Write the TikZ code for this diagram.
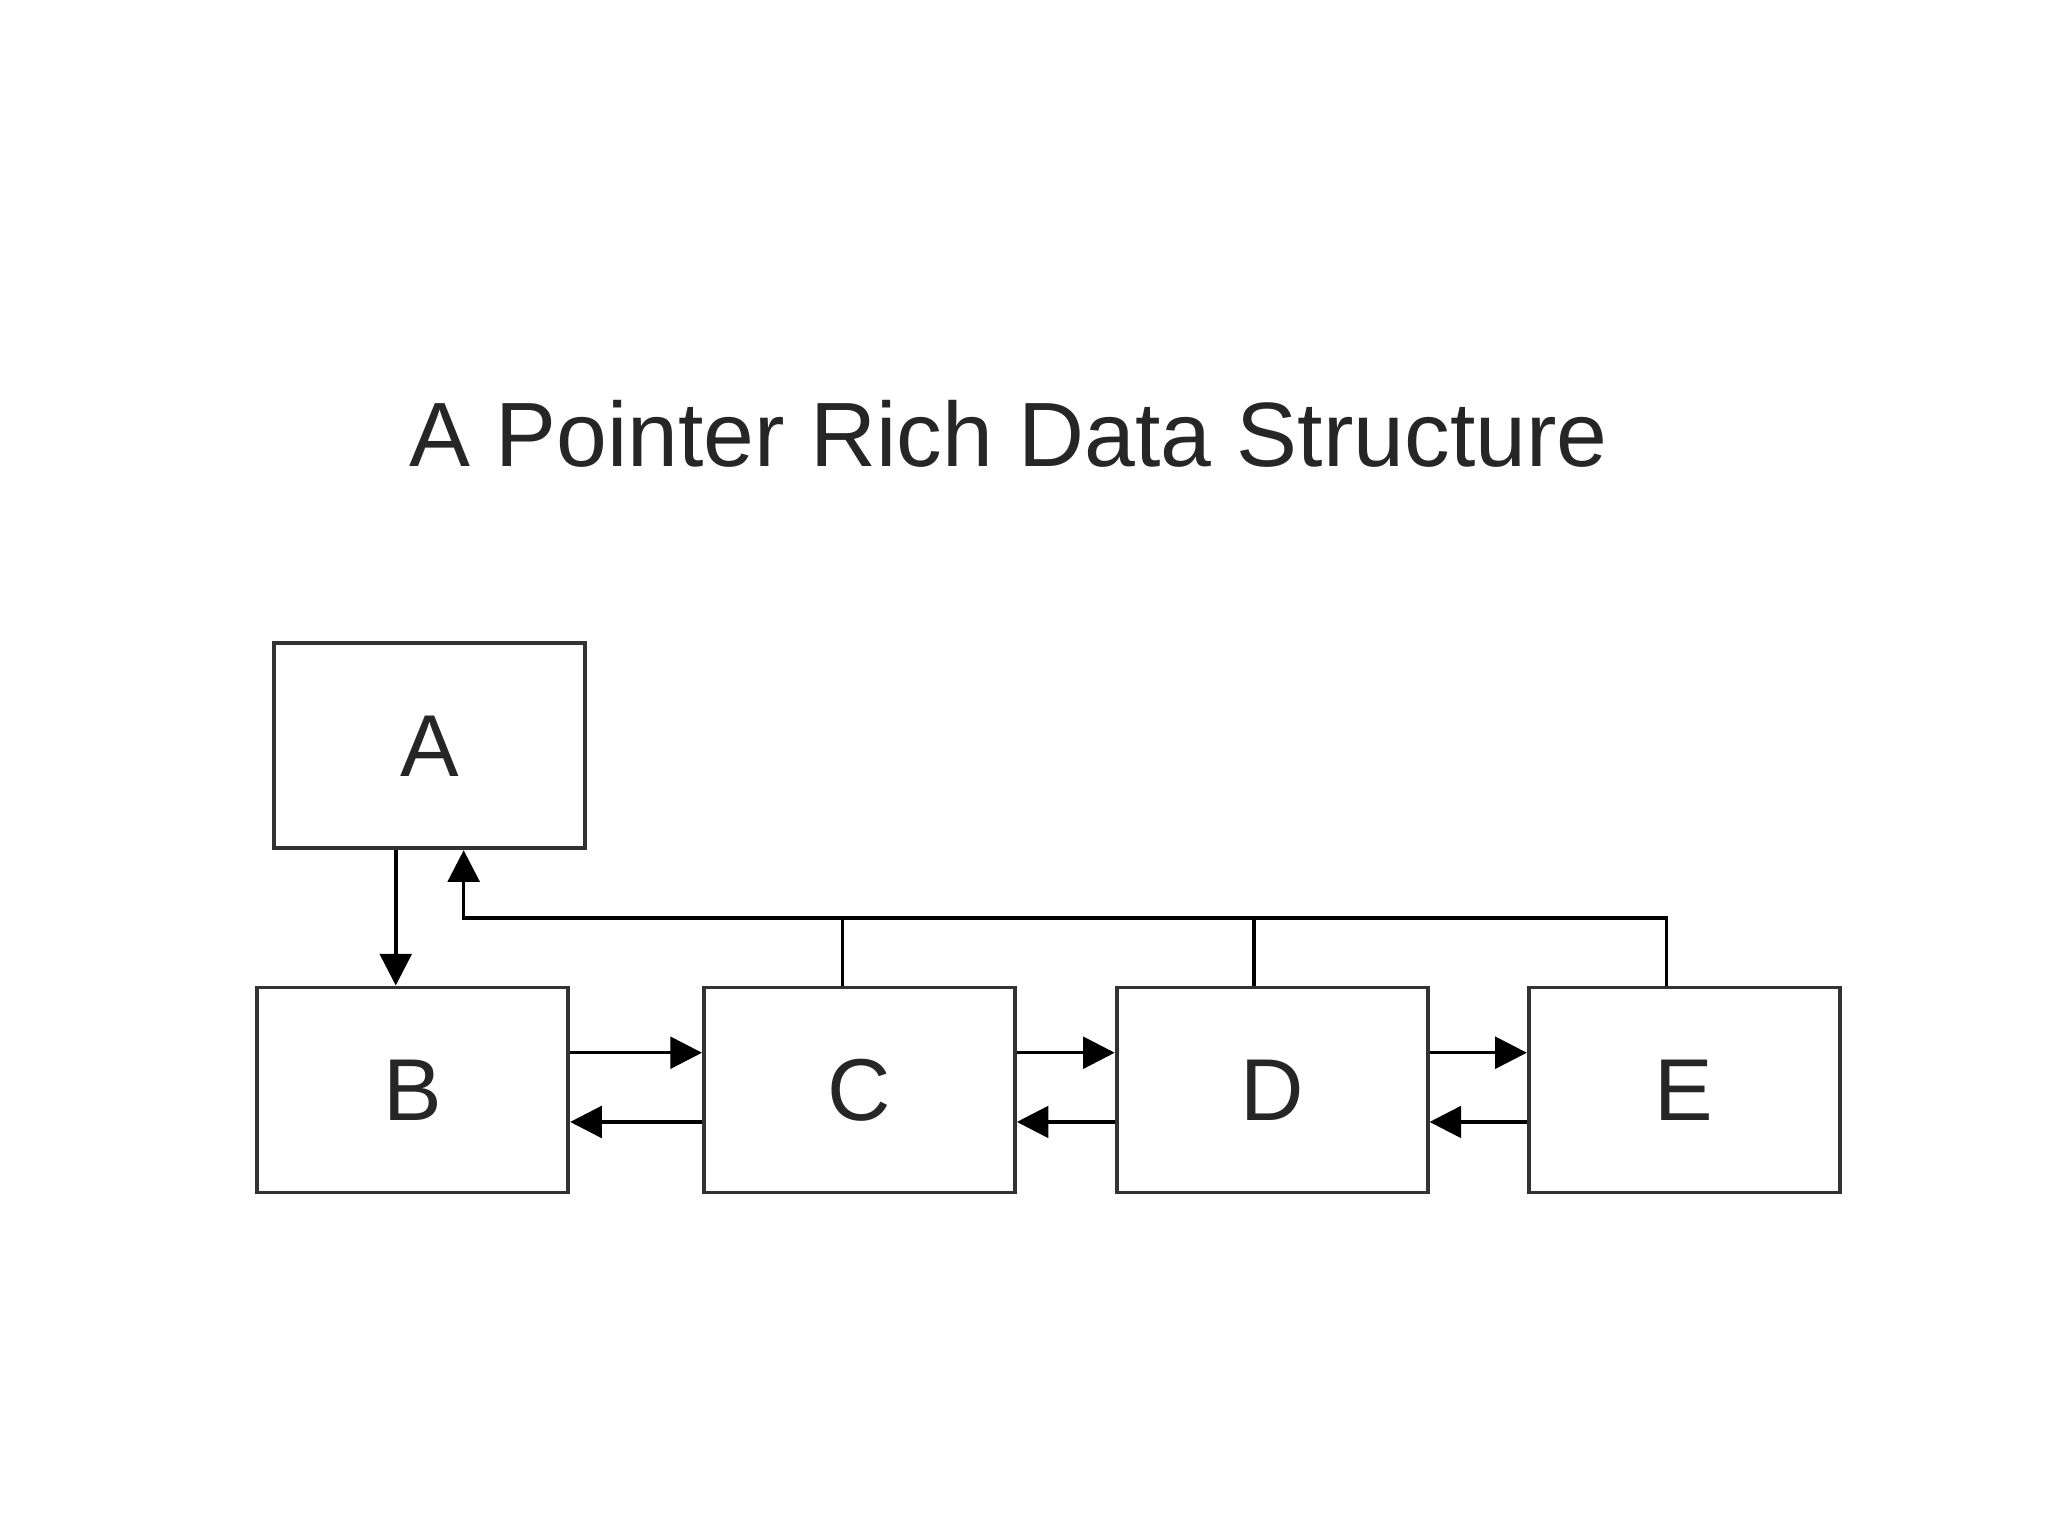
\documentclass[tikz,border=0pt]{standalone}
\usepackage{fontspec}
\setmainfont{Liberation Sans}
\usetikzlibrary{arrows.meta}
\begin{document}
\begin{tikzpicture}[x=0.01306cm,y=-0.01306cm,
  box/.style={draw=black!80,line width=1.1pt,minimum width=3.11cm,minimum height=2.05cm,inner sep=0pt,font=\fontsize{25}{30}\selectfont,text=black!85},
  ln/.style={draw=black,line width=1pt},
  arr/.style={ln,-{Triangle[length=9pt,width=9pt]}}]
\useasboundingbox (0,0) rectangle (1568,1176);
\node[font=\fontsize{26}{31}\selectfont,text=black!85] (title) at (772,332) {A Pointer Rich Data Structure};
\node[box] (A) at (329,571) {A};
\node[box] (B) at (316,834.5) {B};
\node[box] (C) at (658,834.5) {C};
\node[box] (D) at (974,834.5) {D};
\node[box] (E) at (1289.5,834.5) {E};
\coordinate (j1) at (355,703);
\coordinate (jc) at (645,703);
\coordinate (jd) at (960,703);
\coordinate (je) at (1276,703);
\draw[arr] (A.south -| 303,0) -- (B.north -| 303,0);
\draw[ln] (C.north -| jc) -- (jc) (D.north -| jd) -- (jd);
\draw[arr] (E.north -| je) -- (je) -- (j1) -- (A.south -| j1);
\foreach \a/\b in {B/C,C/D,D/E}{
  \draw[arr] (\a.east |- 0,806) -- (\b.west |- 0,806);
  \draw[arr] (\b.west |- 0,859) -- (\a.east |- 0,859);
}
\end{tikzpicture}
\end{document}
